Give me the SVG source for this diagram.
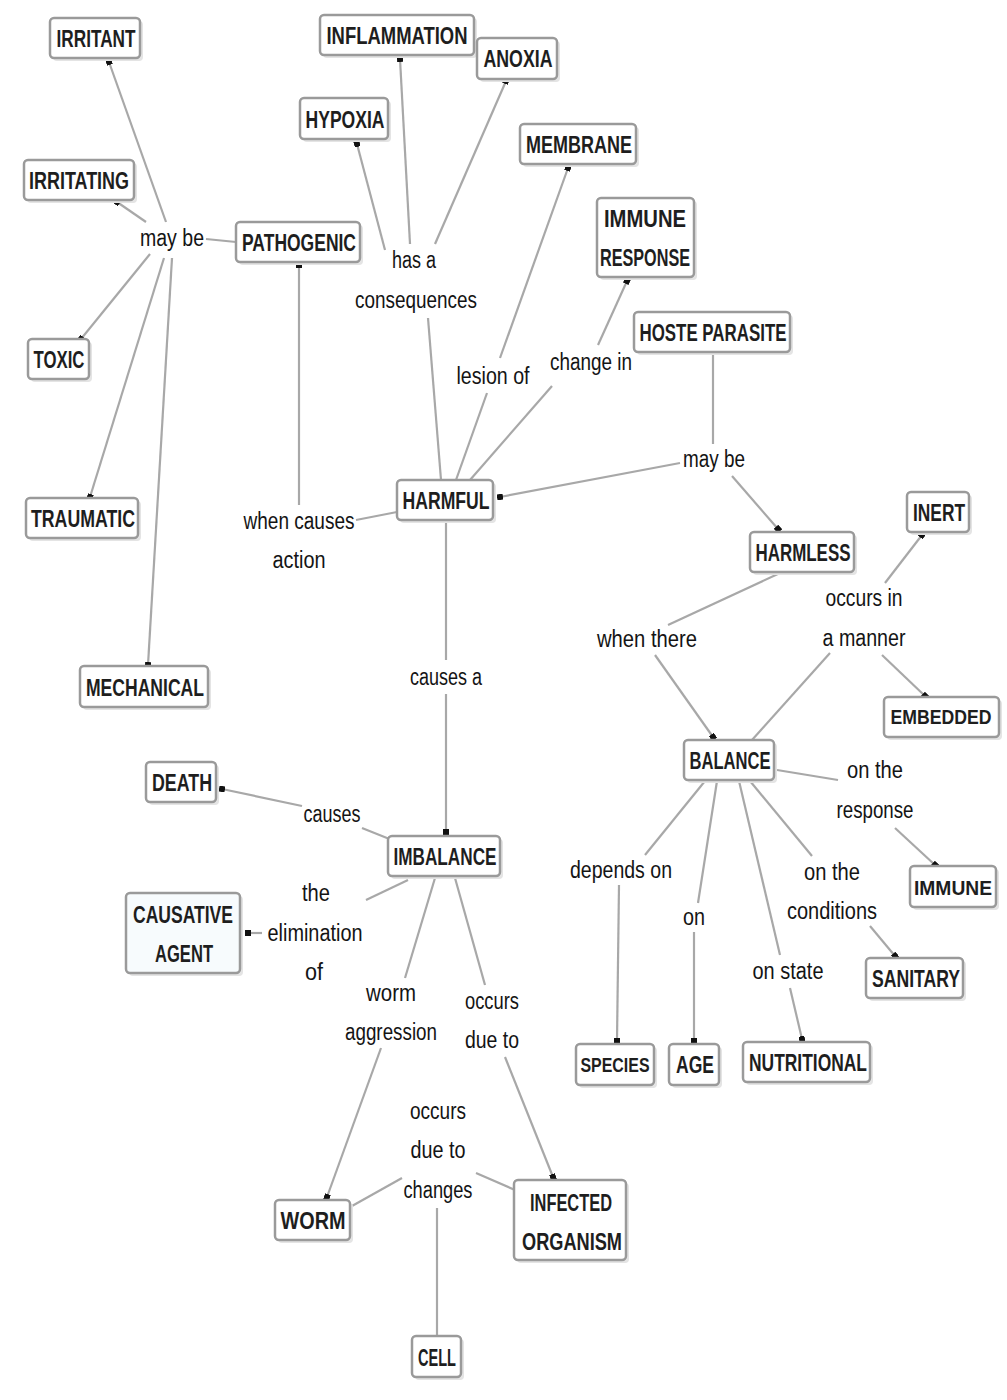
<svg xmlns="http://www.w3.org/2000/svg" width="1007" height="1400" viewBox="0 0 1007 1400">
<defs>
<marker id="dot" viewBox="0 0 6 6" refX="3" refY="3" markerWidth="6" markerHeight="6" markerUnits="userSpaceOnUse" orient="auto">
<rect x="0" y="0" width="6" height="6" fill="#111"/>
</marker>
<style>
.n rect{fill:#fff;stroke:#9a9a9a;stroke-width:2.5}
.n .sh{fill:#e4e4e4;stroke:none}
.n text{font-family:"Liberation Sans",Arial,sans-serif;font-weight:bold;font-size:24px;fill:#1e1e1e;text-anchor:middle;dominant-baseline:central}
.n text.s{font-size:21px}
.n text.xs{font-size:20px}
.l text{font-family:"Liberation Sans",Arial,sans-serif;font-size:23px;fill:#141414;text-anchor:middle;dominant-baseline:central}
#connectors line{stroke:#a8a8a8;stroke-width:2.2;fill:none}
.a{marker-end:url(#dot)}
</style>
</defs>
<rect width="1007" height="1400" fill="#fff"/>
<g id="connectors">
<line x1="236" y1="242" x2="206" y2="239"/>
<line class="a" x1="166" y1="222" x2="109" y2="62"/>
<line class="a" x1="146" y1="222" x2="117" y2="202"/>
<line class="a" x1="150" y1="254" x2="81" y2="339"/>
<line class="a" x1="164" y1="258" x2="90" y2="497"/>
<line class="a" x1="172" y1="258" x2="148" y2="665"/>
<line x1="397" y1="512" x2="356" y2="520"/>
<line class="a" x1="299" y1="505" x2="299" y2="265"/>
<line x1="441" y1="480" x2="428" y2="318"/>
<line class="a" x1="385" y1="250" x2="357" y2="144"/>
<line class="a" x1="410" y1="244" x2="400" y2="59"/>
<line class="a" x1="435" y1="244" x2="506" y2="81"/>
<line x1="456" y1="480" x2="487" y2="393"/>
<line class="a" x1="500" y1="358" x2="568" y2="168"/>
<line x1="470" y1="480" x2="552" y2="386"/>
<line class="a" x1="598" y1="345" x2="627" y2="281"/>
<line x1="713" y1="352" x2="713" y2="444"/>
<line class="a" x1="680" y1="463" x2="500" y2="497"/>
<line class="a" x1="732" y1="476" x2="778" y2="529"/>
<line x1="446" y1="520" x2="446" y2="660"/>
<line class="a" x1="446" y1="694" x2="446" y2="832"/>
<line x1="780" y1="573" x2="668" y2="625"/>
<line class="a" x1="655" y1="655" x2="713" y2="737"/>
<line x1="752" y1="740" x2="830" y2="653"/>
<line class="a" x1="885" y1="583" x2="922" y2="535"/>
<line class="a" x1="882" y1="655" x2="925" y2="696"/>
<line x1="777" y1="770" x2="838" y2="780"/>
<line class="a" x1="895" y1="828" x2="935" y2="865"/>
<line x1="705" y1="781" x2="645" y2="855"/>
<line class="a" x1="619" y1="885" x2="617" y2="1041"/>
<line x1="717" y1="781" x2="698" y2="903"/>
<line class="a" x1="694" y1="932" x2="694" y2="1041"/>
<line x1="739" y1="781" x2="780" y2="955"/>
<line class="a" x1="790" y1="988" x2="802" y2="1039"/>
<line x1="750" y1="781" x2="812" y2="856"/>
<line class="a" x1="870" y1="926" x2="895" y2="956"/>
<line x1="392" y1="840" x2="362" y2="828"/>
<line class="a" x1="302" y1="806" x2="222" y2="789"/>
<line x1="408" y1="880" x2="366" y2="900"/>
<line class="a" x1="262" y1="933" x2="248" y2="933"/>
<line x1="435" y1="878" x2="405" y2="978"/>
<line class="a" x1="381" y1="1048" x2="327" y2="1197"/>
<line x1="455" y1="878" x2="485" y2="985"/>
<line class="a" x1="505" y1="1057" x2="553" y2="1177"/>
<line x1="352" y1="1206" x2="402" y2="1178"/>
<line x1="476" y1="1173" x2="515" y2="1190"/>
<line x1="437" y1="1208" x2="437" y2="1336"/>
</g>
<g id="node-irritant" class="n"><rect class="sh" x="53" y="21" width="90" height="40" rx="4"/><rect x="50" y="18" width="90" height="40" rx="4"/><text x="96" y="38" textLength="79" lengthAdjust="spacingAndGlyphs">IRRITANT</text></g>
<g id="node-inflammation" class="n"><rect class="sh" x="323" y="18" width="154" height="40" rx="4"/><rect x="320" y="15" width="154" height="40" rx="4"/><text x="397" y="35" textLength="141" lengthAdjust="spacingAndGlyphs">INFLAMMATION</text></g>
<g id="node-anoxia" class="n"><rect class="sh" x="480" y="41" width="80" height="41" rx="4"/><rect x="477" y="38" width="80" height="41" rx="4"/><text x="518" y="58" textLength="69" lengthAdjust="spacingAndGlyphs">ANOXIA</text></g>
<g id="node-hypoxia" class="n"><rect class="sh" x="303" y="101" width="88" height="41" rx="4"/><rect x="300" y="98" width="88" height="41" rx="4"/><text x="345" y="119" textLength="79" lengthAdjust="spacingAndGlyphs">HYPOXIA</text></g>
<g id="node-membrane" class="n"><rect class="sh" x="523" y="127" width="116" height="40" rx="4"/><rect x="520" y="124" width="116" height="40" rx="4"/><text x="579" y="144" textLength="106" lengthAdjust="spacingAndGlyphs">MEMBRANE</text></g>
<g id="node-irritating" class="n"><rect class="sh" x="27" y="163" width="110" height="40" rx="4"/><rect x="24" y="160" width="110" height="40" rx="4"/><text x="79" y="180" textLength="100" lengthAdjust="spacingAndGlyphs">IRRITATING</text></g>
<g id="node-pathogenic" class="n"><rect class="sh" x="239" y="225" width="124" height="40" rx="4"/><rect x="236" y="222" width="124" height="40" rx="4"/><text x="299" y="242" textLength="114" lengthAdjust="spacingAndGlyphs">PATHOGENIC</text></g>
<g id="node-immune-response" class="n"><rect class="sh" x="600" y="201" width="97" height="79" rx="4"/><rect x="597" y="198" width="97" height="79" rx="4"/><text x="645" y="218" textLength="82" lengthAdjust="spacingAndGlyphs">IMMUNE</text><text x="645" y="257" textLength="90" lengthAdjust="spacingAndGlyphs">RESPONSE</text></g>
<g id="node-hoste-parasite" class="n"><rect class="sh" x="637" y="315" width="156" height="40" rx="4"/><rect x="634" y="312" width="156" height="40" rx="4"/><text x="713" y="332" textLength="147" lengthAdjust="spacingAndGlyphs">HOSTE PARASITE</text></g>
<g id="node-toxic" class="n"><rect class="sh" x="31" y="342" width="61" height="40" rx="4"/><rect x="28" y="339" width="61" height="40" rx="4"/><text x="59" y="359" textLength="51" lengthAdjust="spacingAndGlyphs">TOXIC</text></g>
<g id="node-harmful" class="n"><rect class="sh" x="400" y="483" width="96" height="40" rx="4"/><rect x="397" y="480" width="96" height="40" rx="4"/><text x="446" y="500" textLength="87" lengthAdjust="spacingAndGlyphs">HARMFUL</text></g>
<g id="node-inert" class="n"><rect class="sh" x="910" y="495" width="62" height="40" rx="4"/><rect x="907" y="492" width="62" height="40" rx="4"/><text x="939" y="512" textLength="52" lengthAdjust="spacingAndGlyphs">INERT</text></g>
<g id="node-traumatic" class="n"><rect class="sh" x="29" y="501" width="112" height="40" rx="4"/><rect x="26" y="498" width="112" height="40" rx="4"/><text x="83" y="518" textLength="104" lengthAdjust="spacingAndGlyphs">TRAUMATIC</text></g>
<g id="node-harmless" class="n"><rect class="sh" x="753" y="535" width="104" height="40" rx="4"/><rect x="750" y="532" width="104" height="40" rx="4"/><text x="803" y="552" textLength="95" lengthAdjust="spacingAndGlyphs">HARMLESS</text></g>
<g id="node-mechanical" class="n"><rect class="sh" x="83" y="669" width="128" height="41" rx="4"/><rect x="80" y="666" width="128" height="41" rx="4"/><text x="145" y="687" textLength="118" lengthAdjust="spacingAndGlyphs">MECHANICAL</text></g>
<g id="node-embedded" class="n"><rect class="sh" x="887" y="700" width="115" height="40" rx="4"/><rect x="884" y="697" width="115" height="40" rx="4"/><text class="xs" x="941" y="717" textLength="101" lengthAdjust="spacingAndGlyphs">EMBEDDED</text></g>
<g id="node-balance" class="n"><rect class="sh" x="687" y="743" width="90" height="40" rx="4"/><rect x="684" y="740" width="90" height="40" rx="4"/><text x="730" y="760" textLength="81" lengthAdjust="spacingAndGlyphs">BALANCE</text></g>
<g id="node-death" class="n"><rect class="sh" x="149" y="765" width="70" height="40" rx="4"/><rect x="146" y="762" width="70" height="40" rx="4"/><text x="182" y="782" textLength="60" lengthAdjust="spacingAndGlyphs">DEATH</text></g>
<g id="node-imbalance" class="n"><rect class="sh" x="391" y="839" width="112" height="40" rx="4"/><rect x="388" y="836" width="112" height="40" rx="4"/><text x="445" y="856" textLength="103" lengthAdjust="spacingAndGlyphs">IMBALANCE</text></g>
<g id="node-immune" class="n"><rect class="sh" x="913" y="869" width="86" height="41" rx="4"/><rect x="910" y="866" width="86" height="41" rx="4"/><text class="s" x="953" y="887" textLength="78" lengthAdjust="spacingAndGlyphs">IMMUNE</text></g>
<g id="node-causative-agent" class="n"><rect class="sh" x="129" y="896" width="114" height="80" rx="4"/><rect x="126" y="893" width="114" height="80" rx="4" style="fill:#f7fbfd"/><text x="183" y="914" textLength="100" lengthAdjust="spacingAndGlyphs">CAUSATIVE</text><text x="184" y="953" textLength="58" lengthAdjust="spacingAndGlyphs">AGENT</text></g>
<g id="node-sanitary" class="n"><rect class="sh" x="869" y="961" width="97" height="40" rx="4"/><rect x="866" y="958" width="97" height="40" rx="4"/><text x="916" y="978" textLength="88" lengthAdjust="spacingAndGlyphs">SANITARY</text></g>
<g id="node-species" class="n"><rect class="sh" x="579" y="1047" width="78" height="41" rx="4"/><rect x="576" y="1044" width="78" height="41" rx="4"/><text class="s" x="615" y="1064" textLength="69" lengthAdjust="spacingAndGlyphs">SPECIES</text></g>
<g id="node-age" class="n"><rect class="sh" x="672" y="1047" width="50" height="41" rx="4"/><rect x="669" y="1044" width="50" height="41" rx="4"/><text x="695" y="1064" textLength="38" lengthAdjust="spacingAndGlyphs">AGE</text></g>
<g id="node-nutritional" class="n"><rect class="sh" x="746" y="1045" width="127" height="40" rx="4"/><rect x="743" y="1042" width="127" height="40" rx="4"/><text x="808" y="1062" textLength="118" lengthAdjust="spacingAndGlyphs">NUTRITIONAL</text></g>
<g id="node-worm" class="n"><rect class="sh" x="278" y="1203" width="75" height="40" rx="4"/><rect x="275" y="1200" width="75" height="40" rx="4"/><text x="313" y="1220" textLength="65" lengthAdjust="spacingAndGlyphs">WORM</text></g>
<g id="node-infected-organism" class="n"><rect class="sh" x="517" y="1183" width="112" height="80" rx="4"/><rect x="514" y="1180" width="112" height="80" rx="4"/><text x="571" y="1202" textLength="82" lengthAdjust="spacingAndGlyphs">INFECTED</text><text x="572" y="1241" textLength="100" lengthAdjust="spacingAndGlyphs">ORGANISM</text></g>
<g id="node-cell" class="n"><rect class="sh" x="415" y="1339" width="49" height="41" rx="4"/><rect x="412" y="1336" width="49" height="41" rx="4"/><text x="437" y="1357" textLength="38" lengthAdjust="spacingAndGlyphs">CELL</text></g>
<g id="labels" class="l">
<text x="172" y="238" textLength="64" lengthAdjust="spacingAndGlyphs">may be</text>
<text x="414" y="260" textLength="44" lengthAdjust="spacingAndGlyphs">has a</text>
<text x="416" y="300" textLength="122" lengthAdjust="spacingAndGlyphs">consequences</text>
<text x="493" y="376" textLength="73" lengthAdjust="spacingAndGlyphs">lesion of</text>
<text x="591" y="362" textLength="82" lengthAdjust="spacingAndGlyphs">change in</text>
<text x="714" y="459" textLength="62" lengthAdjust="spacingAndGlyphs">may be</text>
<text x="299" y="521" textLength="111" lengthAdjust="spacingAndGlyphs">when causes</text>
<text x="299" y="560" textLength="53" lengthAdjust="spacingAndGlyphs">action</text>
<text x="446" y="677" textLength="72" lengthAdjust="spacingAndGlyphs">causes a</text>
<text x="647" y="639" textLength="100" lengthAdjust="spacingAndGlyphs">when there</text>
<text x="864" y="598" textLength="77" lengthAdjust="spacingAndGlyphs">occurs in</text>
<text x="864" y="638" textLength="83" lengthAdjust="spacingAndGlyphs">a manner</text>
<text x="875" y="770" textLength="56" lengthAdjust="spacingAndGlyphs">on the</text>
<text x="875" y="810" textLength="77" lengthAdjust="spacingAndGlyphs">response</text>
<text x="332" y="814" textLength="57" lengthAdjust="spacingAndGlyphs">causes</text>
<text x="316" y="893" textLength="28" lengthAdjust="spacingAndGlyphs">the</text>
<text x="315" y="933" textLength="95" lengthAdjust="spacingAndGlyphs">elimination</text>
<text x="314" y="972" textLength="18" lengthAdjust="spacingAndGlyphs">of</text>
<text x="621" y="870" textLength="102" lengthAdjust="spacingAndGlyphs">depends on</text>
<text x="694" y="917" textLength="22" lengthAdjust="spacingAndGlyphs">on</text>
<text x="832" y="872" textLength="56" lengthAdjust="spacingAndGlyphs">on the</text>
<text x="832" y="911" textLength="90" lengthAdjust="spacingAndGlyphs">conditions</text>
<text x="788" y="971" textLength="71" lengthAdjust="spacingAndGlyphs">on state</text>
<text x="391" y="993" textLength="50" lengthAdjust="spacingAndGlyphs">worm</text>
<text x="391" y="1032" textLength="92" lengthAdjust="spacingAndGlyphs">aggression</text>
<text x="492" y="1001" textLength="54" lengthAdjust="spacingAndGlyphs">occurs</text>
<text x="492" y="1040" textLength="54" lengthAdjust="spacingAndGlyphs">due to</text>
<text x="438" y="1111" textLength="56" lengthAdjust="spacingAndGlyphs">occurs</text>
<text x="438" y="1150" textLength="55" lengthAdjust="spacingAndGlyphs">due to</text>
<text x="438" y="1190" textLength="69" lengthAdjust="spacingAndGlyphs">changes</text>
</g>
</svg>
